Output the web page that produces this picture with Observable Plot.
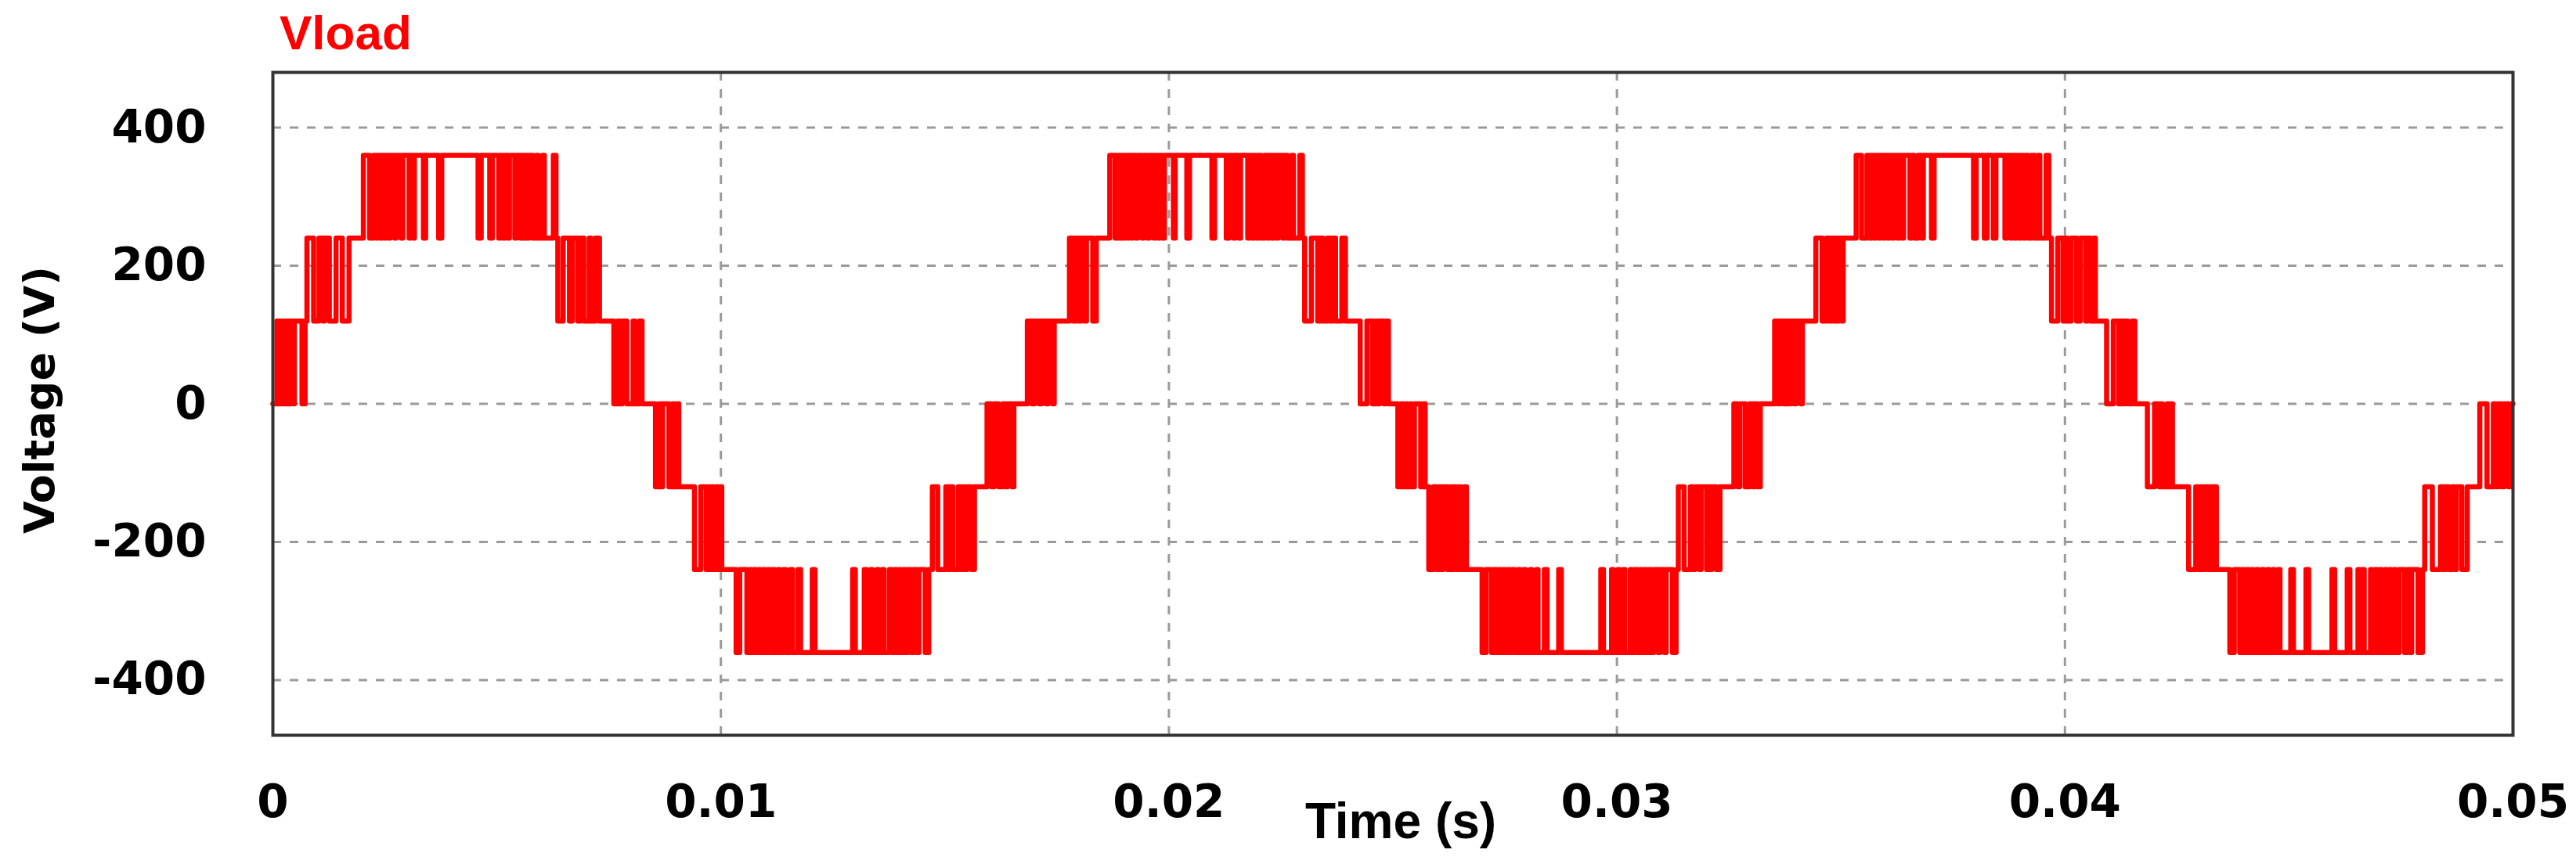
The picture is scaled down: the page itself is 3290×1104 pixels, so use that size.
<!DOCTYPE html>
<html>
<head>
<meta charset="utf-8">
<script src="https://cdn.jsdelivr.net/npm/d3@7"></script>
<script src="https://cdn.jsdelivr.net/npm/@observablehq/plot@0.6"></script>
<style>
  html, body { margin: 0; padding: 0; background: #fff; }
  body { width: 3290px; height: 1104px; overflow: hidden; }
  #title {
    height: 84px; line-height: 84px; padding-left: 357px;
    font-family: "Liberation Sans", Arial, sans-serif; font-weight: bold;
    font-size: 62px; color: #ff0000; white-space: nowrap;
  }
</style>
</head>
<body>
<div id="title">Vload</div>
<div id="chart"></div>
<script>
// ---- tick values and labels ----
const xTicks = [0, 0.01, 0.02, 0.03, 0.04, 0.05];
const xTickLabels = ["0", "0.01", "0.02", "0.03", "0.04", "0.05"];
const xGrid = [0.01, 0.02, 0.03, 0.04];
const yTicks = [-400, -200, 0, 200, 400];
const yTickLabels = ["-400", "-200", "0", "200", "400"];
const xTitle = "Time (s)";
const yTitle = "Voltage (V)";

// ---- Vload switching transitions: [time (ms), level (V)] per half cycle ----
const half1 = [
  [0,0],[0.09,120],[0.13,0],[0.17,120],[0.22,0],[0.26,120],[0.30,0],[0.34,120],[0.38,0],[0.40,120],[0.45,0],[0.48,120],[0.65,0],[0.72,120],
  [0.76,240],[0.91,120],[1.03,240],[1.12,120],[1.15,240],[1.26,120],[1.41,240],[1.55,120],[1.70,240],
  [2.02,360],[2.16,240],[2.25,360],[2.30,240],[2.34,360],[2.40,240],[2.44,360],[2.50,240],[2.53,360],[2.58,240],[2.62,360],[2.72,240],[2.75,360],[2.86,240],[2.90,360],[3.04,240],[3.07,360],[3.13,240],[3.16,360],[3.36,240],[3.41,360],[3.70,240],[3.77,360],
  [4.58,240],[4.65,360],[4.84,240],[4.90,360],[5.04,240],[5.08,360],[5.14,240],[5.18,360],[5.24,240],[5.28,360],[5.40,240],[5.44,360],[5.52,240],[5.56,360],[5.60,240],[5.64,360],[5.68,240],[5.72,360],[5.80,240],[5.88,360],[5.92,240],[6.02,360],[6.06,240],[6.26,360],[6.32,240],
  [6.36,120],[6.48,240],[6.62,120],[6.68,240],[6.80,120],[6.86,240],[6.94,120],[7.06,240],[7.10,120],[7.20,240],[7.29,120],
  [7.61,0],[7.70,120],[7.74,0],[7.80,120],[7.90,0],[8.04,120],[8.08,0],[8.18,120],[8.24,0]
];
const half2 = [
  [8.54,-120],[8.62,0],[8.66,-120],[8.70,0],[8.84,-120],[8.92,0],[8.96,-120],[9.02,0],[9.06,-120],
  [9.41,-240],[9.55,-120],[9.67,-240],[9.72,-120],[9.76,-240],[9.80,-120],[9.84,-240],[9.90,-120],[9.94,-240],[9.98,-120],[10.02,-240],
  [10.34,-360],[10.42,-240],[10.58,-360],[10.64,-240],[10.68,-360],[10.74,-240],[10.78,-360],[10.84,-240],[10.88,-360],[10.94,-240],[10.98,-360],[11.05,-240],[11.10,-360],[11.16,-240],[11.20,-360],[11.28,-240],[11.32,-360],[11.40,-240],[11.45,-360],[11.55,-240],[11.60,-360],[11.72,-240],[11.78,-360],[12.04,-240],[12.10,-360],
  [12.94,-240],[13.00,-360],[13.20,-240],[13.25,-360],[13.34,-240],[13.38,-360],[13.48,-240],[13.52,-360],[13.60,-240],[13.64,-360],[13.76,-240],[13.82,-360],[13.88,-240],[13.92,-360],[13.98,-240],[14.02,-360],[14.08,-240],[14.12,-360],[14.16,-240],[14.24,-360],[14.30,-240],[14.38,-360],[14.42,-240],[14.56,-360],[14.64,-240],
  [14.72,-120],[14.84,-240],[15.02,-120],[15.08,-240],[15.12,-120],[15.18,-240],[15.30,-120],[15.36,-240],[15.40,-120],[15.45,-240],[15.50,-120],[15.60,-240],[15.66,-120],
  [15.94,0],[16.04,-120],[16.10,0],[16.20,-120],[16.30,0],[16.36,-120],[16.40,0],[16.50,-120],[16.54,0]
];
const half3 = [
  [16.84,120],[16.94,0],[17.00,120],[17.10,0],[17.16,120],[17.26,0],[17.30,120],[17.40,0],[17.44,120],
  [17.78,240],[17.86,120],[17.92,240],[17.98,120],[18.04,240],[18.12,120],[18.16,240],[18.30,120],[18.38,240],
  [18.68,360],[18.80,240],[18.86,360],[18.90,240],[18.94,360],[18.98,240],[19.02,360],[19.07,240],[19.10,360],[19.16,240],[19.19,360],[19.26,240],[19.30,360],[19.40,240],[19.44,360],[19.52,240],[19.56,360],[19.66,240],[19.70,360],[19.76,240],[19.80,360],[19.86,240],[19.90,360],[20.10,240],[20.14,360],[20.40,240],[20.46,360],
  [20.96,240],[21.02,360],[21.28,240],[21.34,360],[21.44,240],[21.48,360],[21.56,240],[21.60,360],[21.76,240],[21.80,360],[21.86,240],[21.90,360],[21.96,240],[22.00,360],[22.06,240],[22.14,360],[22.20,240],[22.24,360],[22.30,240],[22.34,360],[22.40,240],[22.44,360],[22.54,240],[22.58,360],[22.64,240],[22.74,360],[22.78,240],[22.92,360],[22.98,240],
  [23.03,120],[23.18,240],[23.32,120],[23.38,240],[23.44,120],[23.54,240],[23.60,120],[23.66,240],[23.72,120],[23.86,240],[23.94,120],
  [24.27,0],[24.42,120],[24.54,0],[24.60,120],[24.64,0],[24.70,120],[24.80,0],[24.84,120],[24.90,0]
];
const half4 = [
  [25.11,-120],[25.18,0],[25.22,-120],[25.28,0],[25.32,-120],[25.38,0],[25.42,-120],[25.48,0],[25.62,-120],[25.68,0],[25.72,-120],
  [25.80,-240],[25.90,-120],[25.98,-240],[26.04,-120],[26.08,-240],[26.12,-120],[26.22,-240],[26.28,-120],[26.32,-240],[26.36,-120],[26.42,-240],[26.48,-120],[26.52,-240],[26.60,-120],[26.64,-240],
  [26.99,-360],[27.08,-240],[27.20,-360],[27.26,-240],[27.30,-360],[27.36,-240],[27.40,-360],[27.46,-240],[27.50,-360],[27.56,-240],[27.60,-360],[27.66,-240],[27.72,-360],[27.80,-240],[27.84,-360],[27.92,-240],[27.96,-360],[28.06,-240],[28.10,-360],[28.20,-240],[28.24,-360],[28.38,-240],[28.44,-360],[28.70,-240],[28.76,-360],
  [29.64,-240],[29.70,-360],[29.88,-240],[29.92,-360],[30.02,-240],[30.06,-360],[30.14,-240],[30.18,-360],[30.30,-240],[30.34,-360],[30.40,-240],[30.46,-360],[30.52,-240],[30.56,-360],[30.62,-240],[30.66,-360],[30.72,-240],[30.76,-360],[30.82,-240],[30.92,-360],[30.96,-240],[31.06,-360],[31.10,-240],[31.24,-360],[31.32,-240],
  [31.37,-120],[31.50,-240],[31.64,-120],[31.70,-240],[31.74,-120],[31.84,-240],[31.88,-120],[32.00,-240],[32.04,-120],[32.08,-240],[32.12,-120],[32.22,-240],[32.30,-120],
  [32.61,0],[32.70,-120],[32.74,0],[32.86,-120],[32.96,0],[33.04,-120],[33.08,0],[33.14,-120],[33.20,0]
];
const half5 = [
  [33.52,120],[33.60,0],[33.64,120],[33.72,0],[33.78,120],[33.82,0],[33.88,120],[33.96,0],[34.00,120],[34.10,0],[34.14,120],
  [34.44,240],[34.58,120],[34.68,240],[34.74,120],[34.78,240],[34.84,120],[34.88,240],[34.92,120],[34.96,240],[35.02,120],[35.05,240],
  [35.34,360],[35.46,240],[35.58,360],[35.64,240],[35.68,360],[35.74,240],[35.78,360],[35.84,240],[35.88,360],[35.94,240],[35.98,360],[36.04,240],[36.08,360],[36.14,240],[36.18,360],[36.26,240],[36.30,360],[36.36,240],[36.40,360],[36.54,240],[36.58,360],[36.64,240],[36.72,360],[36.80,240],[36.84,360],[37.02,240],[37.08,360],
  [37.96,240],[38.02,360],[38.20,240],[38.26,360],[38.40,240],[38.46,360],[38.66,240],[38.70,360],[38.78,240],[38.82,360],[38.88,240],[38.92,360],[38.98,240],[39.02,360],[39.08,240],[39.12,360],[39.18,240],[39.26,360],[39.32,240],[39.40,360],[39.44,240],[39.58,360],[39.64,240],
  [39.70,120],[39.84,240],[39.96,120],[40.02,240],[40.06,120],[40.14,240],[40.26,120],[40.34,240],[40.46,120],[40.50,240],[40.56,120],[40.64,240],[40.68,120],
  [40.93,0],[41.08,120],[41.20,0],[41.26,120],[41.30,0],[41.34,120],[41.40,0],[41.50,120],[41.56,0]
];
const half6 = [
  [41.84,-120],[42.00,0],[42.10,-120],[42.14,0],[42.18,-120],[42.28,0],[42.32,-120],[42.36,0],[42.40,-120],
  [42.76,-240],[42.92,-120],[42.98,-240],[43.02,-120],[43.06,-240],[43.12,-120],[43.20,-240],[43.26,-120],[43.30,-240],[43.34,-120],[43.38,-240],
  [43.68,-360],[43.78,-240],[43.90,-360],[43.96,-240],[44.00,-360],[44.06,-240],[44.10,-360],[44.16,-240],[44.20,-360],[44.28,-240],[44.32,-360],[44.40,-240],[44.44,-360],[44.52,-240],[44.56,-360],[44.64,-240],[44.68,-360],[44.76,-240],[44.80,-360],[45.04,-240],[45.10,-360],[45.38,-240],[45.44,-360],
  [45.96,-240],[46.02,-360],[46.30,-240],[46.36,-360],[46.54,-240],[46.58,-360],[46.64,-240],[46.68,-360],[46.82,-240],[46.86,-360],[46.92,-240],[46.96,-360],[47.02,-240],[47.06,-360],[47.14,-240],[47.18,-360],[47.24,-240],[47.28,-360],[47.34,-240],[47.38,-360],[47.46,-240],[47.58,-360],[47.64,-240],[47.70,-360],[47.74,-240],[47.88,-360],[47.98,-240],
  [48.03,-120],[48.20,-240],[48.38,-120],[48.44,-240],[48.48,-120],[48.56,-240],[48.64,-120],[48.70,-240],[48.74,-120],[48.86,-240],[48.98,-120],
  [49.26,0],[49.42,-120],[49.56,0],[49.62,-120],[49.66,0],[49.74,-120],[49.80,0],[49.90,-120],[49.96,0],[50,0]
];

const points = [half1, half2, half3, half4, half5, half6]
  .flat()
  .map(([ms, v]) => ({t: ms / 1000, v}));

const tickFont = {fontSize: 58, fontFamily: "DejaVu Sans", fontWeight: "bold"};

const chart = Plot.plot({
  width: 3290,
  height: 1020,
  marginLeft: 348,
  marginRight: 81,
  marginTop: 8,
  marginBottom: 165,
  style: {background: "#fff", color: "#000", fontFamily: "DejaVu Sans", fontWeight: "bold", overflow: "visible"},
  x: {domain: [0, 0.05]},
  y: {domain: [-480, 480]},
  marks: [
    Plot.gridY(yTicks, {stroke: "#9a9a9a", strokeOpacity: 1, strokeWidth: 3, strokeDasharray: "11,11"}),
    Plot.gridX(xGrid, {stroke: "#9a9a9a", strokeOpacity: 1, strokeWidth: 3, strokeDasharray: "11,11"}),
    Plot.line(points, {x: "t", y: "v", curve: "step-after", stroke: "#ff0000", strokeWidth: 6.5}),
    Plot.frame({stroke: "#333", strokeWidth: 4}),
    Plot.axisX(xTicks, {tickSize: 0, tickPadding: 63, label: null,
      tickFormat: d => xTickLabels[xTicks.indexOf(d)], ...tickFont}),
    Plot.axisY(yTicks, {tickSize: 0, tickPadding: 85, label: null,
      tickFormat: d => yTickLabels[yTicks.indexOf(d)], ...tickFont}),
    Plot.text([xTitle], {text: d => d, frameAnchor: "bottom", dx: 10, dy: 111,
      lineAnchor: "middle", textAnchor: "middle",
      fontSize: 64, fontFamily: "Liberation Sans", fontWeight: "bold", fill: "#000"}),
    Plot.text([yTitle], {text: d => d, frameAnchor: "left", dx: -297, dy: -5,
      rotate: -90, lineAnchor: "middle", textAnchor: "middle",
      fontSize: 54, fontFamily: "DejaVu Sans", fontWeight: "bold", fill: "#000"})
  ]
});
document.getElementById("chart").appendChild(chart);
</script>
</body>
</html>
